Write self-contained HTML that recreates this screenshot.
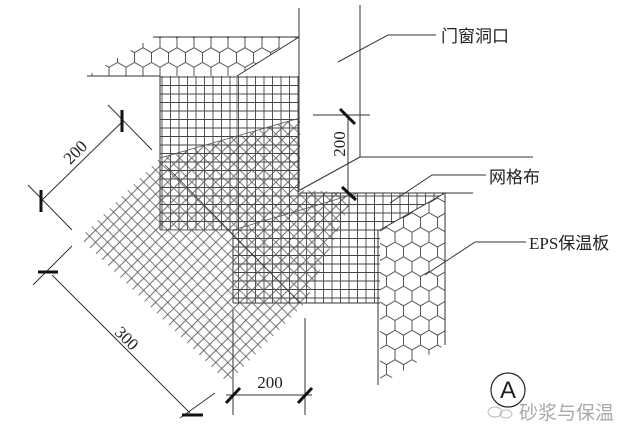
<!DOCTYPE html>
<html><head><meta charset="utf-8"><style>
html,body{margin:0;padding:0;background:#fff;}
svg{display:block;}
text{font-family:"Liberation Serif","Noto Serif CJK SC",serif;fill:#222;}
</style></head><body>
<svg width="640" height="442" viewBox="0 0 640 442" xmlns="http://www.w3.org/2000/svg">
<defs>
<pattern id="grid" width="8.5" height="8.5" patternUnits="userSpaceOnUse">
<path d="M0,0.5H8.5M0.5,0V8.5" stroke="#444" stroke-width="0.9" fill="none"/>
</pattern>
<pattern id="dgrid" width="8.5" height="8.5" patternUnits="userSpaceOnUse" patternTransform="rotate(45 80 238)">
<path d="M0,0.5H8.5M0.5,0V8.5" stroke="#555" stroke-width="0.85" fill="none"/>
</pattern>
<pattern id="hex" width="17" height="29.4" patternUnits="userSpaceOnUse" x="378" y="198">
<path d="M0,4.9L8.5,0L17,4.9V14.7L8.5,19.6L0,14.7ZM8.5,19.6V29.4" stroke="#444" stroke-width="0.9" fill="none"/>
</pattern>
<pattern id="hex2" width="17" height="29.4" patternUnits="userSpaceOnUse" x="92" y="33">
<path d="M0,4.9L8.5,0L17,4.9V14.7L8.5,19.6L0,14.7ZM8.5,19.6V29.4" stroke="#444" stroke-width="0.9" fill="none"/>
</pattern>
</defs>

<polygon points="153,37 298,37 237,76 87,76" fill="url(#hex2)"/>
<line x1="153" y1="37" x2="299" y2="37" stroke="#333"/>
<line x1="87" y1="76" x2="160" y2="76" stroke="#333"/>
<line x1="237" y1="76" x2="299" y2="37" stroke="#333"/>

<rect x="160" y="76" width="139" height="154" fill="url(#grid)"/>
<line x1="160" y1="76" x2="160" y2="230" stroke="#333"/>
<line x1="237" y1="76" x2="237" y2="230" stroke="#555" stroke-width="0.8"/>

<rect x="233" y="193" width="147" height="110" fill="url(#grid)"/>
<polygon points="300,193 445,193 380,230 300,230" fill="url(#grid)"/>
<line x1="300" y1="193" x2="473" y2="193" stroke="#333"/>
<line x1="233" y1="303" x2="380" y2="303" stroke="#333"/>
<line x1="233" y1="230" x2="233" y2="303" stroke="#333"/>

<polygon points="80,238 160,158 300,118 300,190 355,193 305,303 228,383" fill="url(#dgrid)"/>
<line x1="160" y1="158" x2="300" y2="118" stroke="#555" stroke-width="0.8"/>
<line x1="233" y1="230" x2="358" y2="193" stroke="#555" stroke-width="0.8"/>
<line x1="165" y1="165" x2="300" y2="303" stroke="#333" stroke-width="0.8"/>
<line x1="160" y1="230" x2="300" y2="230" stroke="#444" stroke-width="0.8"/>

<polygon points="380,230 445,193 445,345 380,385" fill="url(#hex)"/>
<line x1="380" y1="230" x2="445" y2="193" stroke="#333"/>
<line x1="378" y1="230" x2="378" y2="385" stroke="#333"/>
<line x1="445" y1="193" x2="445" y2="345" stroke="#333"/>

<g stroke="#333" stroke-width="1" fill="none">
<line x1="299" y1="8" x2="299" y2="192"/>
<line x1="360" y1="5" x2="360" y2="157"/>
<line x1="360" y1="157" x2="533" y2="157"/>
<line x1="360" y1="157" x2="300" y2="190"/>
<polyline points="338,62 388,35 436,35"/>
<polyline points="390,203 432,175 486,175"/>
<polyline points="425,275 475,242 526,242"/>
<line x1="313" y1="115" x2="370" y2="115"/>
<line x1="348" y1="115" x2="348" y2="193"/>
<line x1="42" y1="200" x2="122" y2="122"/>
<line x1="28" y1="185" x2="72" y2="230"/>
<line x1="108" y1="105" x2="152" y2="150"/>
<line x1="52" y1="275" x2="190" y2="413"/>
<line x1="33" y1="285" x2="72" y2="246"/>
<line x1="180" y1="418" x2="215" y2="393"/>
<line x1="233" y1="310" x2="233" y2="415"/>
<line x1="305" y1="318" x2="305" y2="415"/>
<line x1="226" y1="395" x2="312" y2="395"/>
</g>
<g stroke="#111" stroke-width="3">
<line x1="41" y1="190" x2="41" y2="212"/>
<line x1="122" y1="110" x2="122" y2="132"/>
<line x1="38" y1="272" x2="58" y2="272"/>
<line x1="182" y1="415" x2="203" y2="415"/>
<line x1="226" y1="403" x2="240" y2="388"/>
<line x1="298" y1="403" x2="312" y2="388"/>
<line x1="340" y1="109" x2="355" y2="124"/>
<line x1="342" y1="187" x2="356" y2="200"/>
</g>

<text x="75" y="158" font-size="17" text-anchor="middle" transform="rotate(-45 75 152)">200</text>
<text x="127" y="344" font-size="17" text-anchor="middle" transform="rotate(45 127 338)">300</text>
<text x="270" y="388" font-size="17" text-anchor="middle">200</text>
<text x="345" y="156" font-size="17" text-anchor="middle" transform="rotate(-90 339 150)">200</text>

<text x="441" y="42" font-size="17" style="font-family:'Noto Sans CJK SC',sans-serif">门窗洞口</text>
<text x="489" y="183" font-size="17" style="font-family:'Noto Sans CJK SC',sans-serif">网格布</text>
<text x="529" y="249" font-size="17"><tspan>EPS</tspan><tspan style="font-family:'Noto Sans CJK SC',sans-serif">保温板</tspan></text>

<circle cx="508" cy="390" r="17" fill="none" stroke="#222" stroke-width="1.2"/>
<text x="508" y="398" font-size="24" text-anchor="middle" style="font-family:'Liberation Sans',sans-serif">A</text>
<ellipse cx="495" cy="412" rx="7" ry="5" fill="none" stroke="#bbb"/>
<ellipse cx="506" cy="414" rx="6" ry="4" fill="none" stroke="#bbb"/>
<text x="519" y="419" font-size="19" style="font-family:'Noto Sans CJK SC',sans-serif;fill:#aaa">砂浆与保温</text>
</svg>
</body></html>
